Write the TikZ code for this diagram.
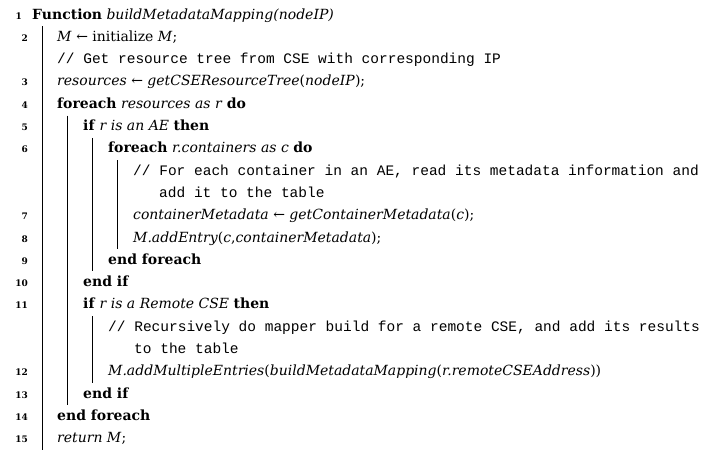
\documentclass[tikz,border=0pt]{standalone}
\usepackage{fontspec}
\setmainfont{DejaVu Serif}
\setmonofont{Liberation Mono}
\begin{document}
\begin{tikzpicture}[x=1pt,y=-1pt,
  txt/.style={anchor=base west,inner sep=0pt,font=\fontsize{14}{16}\selectfont},
  tt/.style={anchor=base west,inner sep=0pt,font=\fontsize{14.5}{17}\selectfont\ttfamily},
  num/.style={anchor=base east,inner sep=0pt,font=\fontsize{9}{11}\selectfont\bfseries},
  bar/.style={line width=0.8pt,draw=black}]
\useasboundingbox (0,0) rectangle (708,459);
\def\R#1{\fpeval{19+22.3*(#1)}}
\node[num] (n1) at (22,\R{0}) {1};
\node[txt] (t1) at (32,\R{0}) {\textbf{Function} \textit{buildMetadataMapping(nodeIP)}};
\node[num] (n2) at (28,\R{1}) {2};
\node[txt] (t2) at (57,\R{1}) {\textit{M} ← initialize \textit{M};};
\node[tt] (c1) at (57,\R{2}) {// Get resource tree from CSE with corresponding IP};
\node[num] (n3) at (28,\R{3}) {3};
\node[txt] (t3) at (57,\R{3}) {\textit{resources} ← \textit{getCSEResourceTree}(\textit{nodeIP});};
\node[num] (n4) at (28,\R{4}) {4};
\node[txt] (t4) at (57,\R{4}) {\textbf{foreach} \textit{resources as r} \textbf{do}};
\node[num] (n5) at (28,\R{5}) {5};
\node[txt] (t5) at (83,\R{5}) {\textbf{if} \textit{r is an AE} \textbf{then}};
\node[num] (n6) at (28,\R{6}) {6};
\node[txt] (t6) at (108,\R{6}) {\textbf{foreach} \textit{r.containers as c} \textbf{do}};
\node[tt] (c2) at (133,\R{7}) {// For each container in an AE, read its metadata information and};
\node[tt] (c2b) at (159,\R{8}) {add it to the table};
\node[num] (n7) at (28,\R{9}) {7};
\node[txt] (t7) at (133,\R{9}) {\textit{containerMetadata} ← \textit{getContainerMetadata}(\textit{c});};
\node[num] (n8) at (28,\R{10}) {8};
\node[txt] (t8) at (133,\R{10}) {\textit{M.addEntry}(\textit{c},\textit{containerMetadata});};
\node[num] (n9) at (28,\R{11}) {9};
\node[txt] (t9) at (108,\R{11}) {\textbf{end foreach}};
\node[num] (n10) at (28,\R{12}) {10};
\node[txt] (t10) at (83,\R{12}) {\textbf{end if}};
\node[num] (n11) at (28,\R{13}) {11};
\node[txt] (t11) at (83,\R{13}) {\textbf{if} \textit{r is a Remote CSE} \textbf{then}};
\node[tt] (c3) at (108,\R{14}) {// Recursively do mapper build for a remote CSE, and add its results};
\node[tt] (c3b) at (134,\R{15}) {to the table};
\node[num] (n12) at (28,\R{16}) {12};
\node[txt] (t12) at (108,\R{16}) {\textit{M.addMultipleEntries}(\textit{buildMetadataMapping}(\textit{r.remoteCSEAddress}))};
\node[num] (n13) at (28,\R{17}) {13};
\node[txt] (t13) at (83,\R{17}) {\textbf{end if}};
\node[num] (n14) at (28,\R{18}) {14};
\node[txt] (t14) at (57,\R{18}) {\textbf{end foreach}};
\node[num] (n15) at (28,\R{19}) {15};
\node[txt] (t15) at (57,\R{19}) {\textit{return M};};
\draw[bar] (42,{\R{1}-15}) -- (42,{\R{19}+7});
\draw[bar] (67,{\R{5}-15}) -- (67,{\R{17}+7});
\draw[bar] (92,{\R{6}-15}) -- (92,{\R{11}+7});
\draw[bar] (117,{\R{7}-15}) -- (117,{\R{10}+7});
\draw[bar] (92,{\R{14}-15}) -- (92,{\R{16}+7});
\end{tikzpicture}
\end{document}
